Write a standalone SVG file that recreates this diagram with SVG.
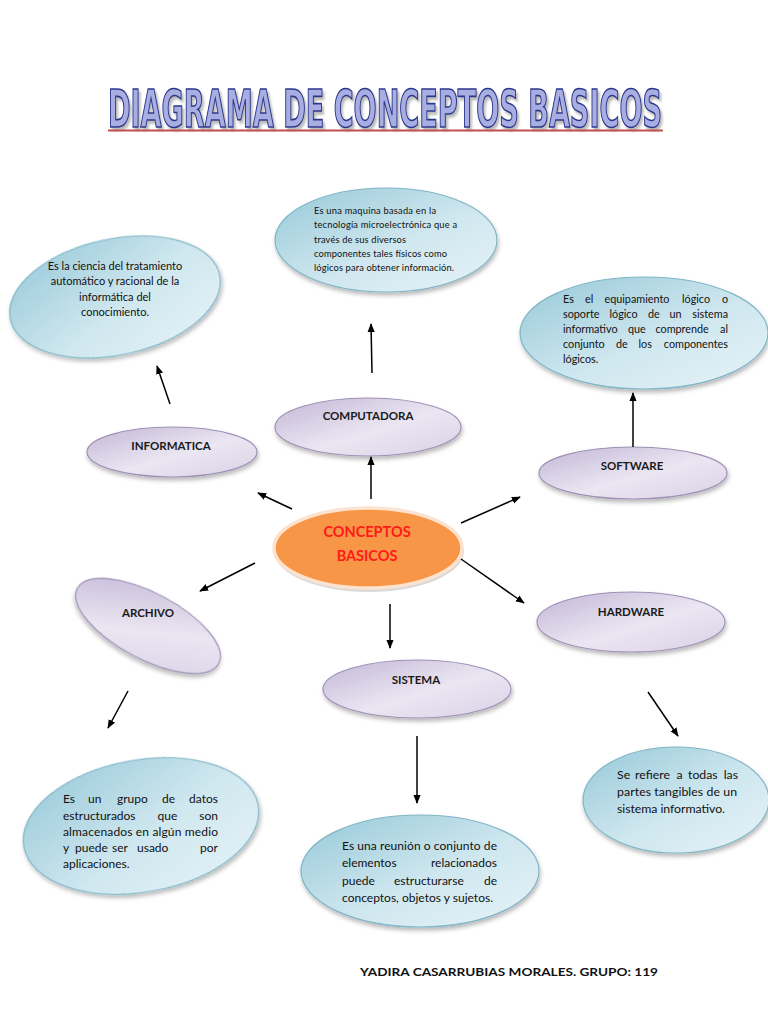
<svg xmlns="http://www.w3.org/2000/svg" width="768" height="1024" viewBox="0 0 768 1024">
<defs>
<linearGradient id="gBlue" x1="0" y1="0" x2="1" y2="1">
<stop offset="0" stop-color="#95c8d8"/>
<stop offset="0.55" stop-color="#cfe7ef"/>
<stop offset="1" stop-color="#e6f3f7"/>
</linearGradient>
<linearGradient id="gPurple" x1="0" y1="0" x2="1" y2="1">
<stop offset="0" stop-color="#c2b6d6"/>
<stop offset="0.55" stop-color="#ebe6f2"/>
<stop offset="1" stop-color="#d9d1e6"/>
</linearGradient>
<filter id="sh" x="-20%" y="-20%" width="140%" height="150%">
<feDropShadow dx="1" dy="3" stdDeviation="2" flood-color="#000" flood-opacity="0.28"/>
</filter>
<filter id="tsh" x="-5%" y="-30%" width="110%" height="160%">
<feDropShadow dx="2" dy="2" stdDeviation="0.8" flood-color="#777" flood-opacity="0.5"/>
</filter>
<marker id="ah" viewBox="0 0 10 10" refX="9" refY="5" markerWidth="6" markerHeight="6" orient="auto" markerUnits="strokeWidth">
<path d="M0,1 L10,5 L0,9 z" fill="#000"/>
</marker>
<style>
.blue{fill:url(#gBlue);stroke:#7fb5c6;stroke-width:1.2;filter:url(#sh)}
.purple{fill:url(#gPurple);stroke:#9e91b6;stroke-width:1.2;filter:url(#sh)}
.lbl{font-family:Lato,"Liberation Sans",sans-serif;font-size:11.5px;font-weight:bold;fill:#1a1a1a;text-anchor:middle}
.body{font-family:Lato,"Liberation Sans",sans-serif;fill:#111}
.small{font-family:Lato,"Liberation Sans",sans-serif;font-size:9.3px;fill:#111}
.f11{font-size:11px}
.f108{font-size:10.8px}
.f12{font-size:12px}
.f123{font-size:12.3px}
.ttl{font-family:"DejaVu Sans Condensed","DejaVu Sans",sans-serif;font-weight:bold;font-size:33px}
.conn line{stroke:#000;stroke-width:1.5;marker-end:url(#ah)}
</style>
</defs>
<rect width="768" height="1024" fill="#fff"/>

<g id="title">
<text class="ttl" transform="translate(108 127) scale(1 1.55)" x="0" y="0" textLength="554" lengthAdjust="spacingAndGlyphs" fill="#a9aee2" stroke="#2a378c" stroke-width="1" filter="url(#tsh)">DIAGRAMA DE CONCEPTOS BASICOS</text>
<line x1="108" y1="130.5" x2="663" y2="130.5" stroke="#c0504d" stroke-width="2"/>
</g>

<g id="def-computadora">
<ellipse class="blue" cx="386" cy="240" rx="111" ry="52"/>
<text class="small"><tspan x="314" y="214" textLength="122">Es una maquina basada en la</tspan><tspan x="314" y="228" textLength="143">tecnología microelectrónica que a</tspan><tspan x="314" y="243" textLength="92">través de sus diversos</tspan><tspan x="314" y="257" textLength="133">componentes tales físicos como</tspan><tspan x="314" y="271" textLength="140">lógicos para obtener información.</tspan></text>
</g>

<g id="def-informatica">
<ellipse class="blue" cx="115" cy="297" rx="107" ry="58" transform="rotate(-12 115 297)"/>
<text class="body f11" text-anchor="middle"><tspan x="115" y="270">Es la ciencia del tratamiento</tspan><tspan x="115" y="285">automático y racional de la</tspan><tspan x="115" y="301">informática del</tspan><tspan x="115" y="316">conocimiento.</tspan></text>
</g>

<g id="def-software">
<ellipse class="blue" cx="644" cy="333" rx="124" ry="56"/>
<text class="body f108"><tspan x="563" y="303">Es</tspan><tspan x="585" y="303">el</tspan><tspan x="604.5" y="303">equipamiento</tspan><tspan x="682" y="303">lógico</tspan><tspan x="728" y="303" text-anchor="end">o</tspan></text>
<text class="body f108"><tspan x="563" y="318">soporte</tspan><tspan x="609.5" y="318">lógico</tspan><tspan x="648" y="318">de</tspan><tspan x="669.5" y="318">un</tspan><tspan x="728" y="318" text-anchor="end">sistema</tspan></text>
<text class="body f108"><tspan x="563" y="333">informativo</tspan><tspan x="628" y="333">que</tspan><tspan x="655.5" y="333">comprende</tspan><tspan x="728" y="333" text-anchor="end">al</tspan></text>
<text class="body f108"><tspan x="563" y="348">conjunto</tspan><tspan x="616" y="348">de</tspan><tspan x="638.5" y="348">los</tspan><tspan x="728" y="348" text-anchor="end">componentes</tspan></text>
<text class="body f108"><tspan x="563" y="363">lógicos.</tspan></text>
</g>

<g id="computadora">
<ellipse class="purple" cx="368" cy="427" rx="93" ry="29"/>
<text class="lbl" x="368" y="420">COMPUTADORA</text>
</g>

<g id="informatica">
<ellipse class="purple" cx="172" cy="452" rx="85" ry="25"/>
<text class="lbl" x="171" y="450">INFORMATICA</text>
</g>

<g id="software">
<ellipse class="purple" cx="633" cy="473" rx="94" ry="26"/>
<text class="lbl" x="632" y="470">SOFTWARE</text>
</g>

<g id="conceptos">
<ellipse cx="369" cy="551" rx="95" ry="41" fill="#000" opacity="0.15"/>
<ellipse cx="368" cy="548" rx="94" ry="40" fill="#f79646" stroke="#fde3cf" stroke-width="3.5"/>
<text x="367" y="537" font-family="Lato,'Liberation Sans',sans-serif" font-size="14.5" font-weight="bold" fill="#ff1a1a" text-anchor="middle">CONCEPTOS</text>
<text x="367" y="561" font-family="Lato,'Liberation Sans',sans-serif" font-size="14.5" font-weight="bold" fill="#ff1a1a" text-anchor="middle">BASICOS</text>
</g>

<g id="archivo">
<ellipse class="purple" cx="148" cy="626" rx="80" ry="33" transform="rotate(28 148 626)"/>
<text class="lbl" x="148" y="617">ARCHIVO</text>
</g>

<g id="hardware">
<ellipse class="purple" cx="631" cy="622" rx="94" ry="30"/>
<text class="lbl" x="631" y="616">HARDWARE</text>
</g>

<g id="sistema">
<ellipse class="purple" cx="417" cy="689" rx="94" ry="29"/>
<text class="lbl" x="416" y="684">SISTEMA</text>
</g>

<g id="def-archivo">
<ellipse class="blue" cx="141" cy="826" rx="119" ry="66" transform="rotate(-10 141 826)"/>
<text class="body f12"><tspan x="63" y="803">Es</tspan><tspan x="88" y="803">un</tspan><tspan x="117" y="803">grupo</tspan><tspan x="162" y="803">de</tspan><tspan x="218" y="803" text-anchor="end">datos</tspan></text>
<text class="body f12"><tspan x="63" y="820">estructurados</tspan><tspan x="157.5" y="820">que</tspan><tspan x="218" y="820" text-anchor="end">son</tspan></text>
<text class="body f12"><tspan x="63" y="836" textLength="155">almacenados en algún medio</tspan></text>
<text class="body f12"><tspan x="63" y="852">y</tspan><tspan x="75" y="852">puede</tspan><tspan x="112" y="852">ser</tspan><tspan x="137" y="852">usado</tspan><tspan x="218" y="852" text-anchor="end">por</tspan></text>
<text class="body f12"><tspan x="63" y="868">aplicaciones.</tspan></text>
</g>

<g id="def-sistema">
<ellipse class="blue" cx="420" cy="871" rx="119" ry="56"/>
<text class="body f12"><tspan x="342" y="850" textLength="155">Es una reunión o conjunto de</tspan></text>
<text class="body f12"><tspan x="342" y="867">elementos</tspan><tspan x="497" y="867" text-anchor="end">relacionados</tspan></text>
<text class="body f12"><tspan x="342" y="885">puede</tspan><tspan x="394" y="885">estructurarse</tspan><tspan x="497" y="885" text-anchor="end">de</tspan></text>
<text class="body f12"><tspan x="342" y="902" textLength="151">conceptos, objetos y sujetos.</tspan></text>
</g>

<g id="def-hardware">
<ellipse class="blue" cx="676" cy="800" rx="93" ry="53"/>
<text class="body f123"><tspan x="617" y="779">Se</tspan><tspan x="635" y="779">refiere</tspan><tspan x="676.5" y="779">a</tspan><tspan x="688" y="779">todas</tspan><tspan x="738" y="779" text-anchor="end">las</tspan></text>
<text class="body f123"><tspan x="617" y="796" textLength="120">partes tangibles de un</tspan></text>
<text class="body f123"><tspan x="617" y="813" textLength="108">sistema informativo.</tspan></text>
</g>

<g id="connectors" class="conn">
<line x1="371" y1="499" x2="371" y2="457"/>
<line x1="292" y1="509" x2="258" y2="493"/>
<line x1="461" y1="523" x2="520" y2="497"/>
<line x1="255" y1="563" x2="200" y2="591"/>
<line x1="461" y1="559" x2="524" y2="603"/>
<line x1="390" y1="604" x2="390" y2="648"/>
<line x1="170" y1="404" x2="157" y2="366"/>
<line x1="372" y1="373" x2="371" y2="324"/>
<line x1="633" y1="447" x2="633" y2="393"/>
<line x1="128" y1="691" x2="108" y2="728"/>
<line x1="417" y1="736" x2="417" y2="803"/>
<line x1="648" y1="692" x2="678" y2="736"/>
</g>

<g id="footer">
<text x="360" y="976" font-family="Lato,'Liberation Sans',sans-serif" font-size="12" font-weight="bold" fill="#111" textLength="298" lengthAdjust="spacingAndGlyphs">YADIRA CASARRUBIAS MORALES. GRUPO: 119</text>
</g>
</svg>
